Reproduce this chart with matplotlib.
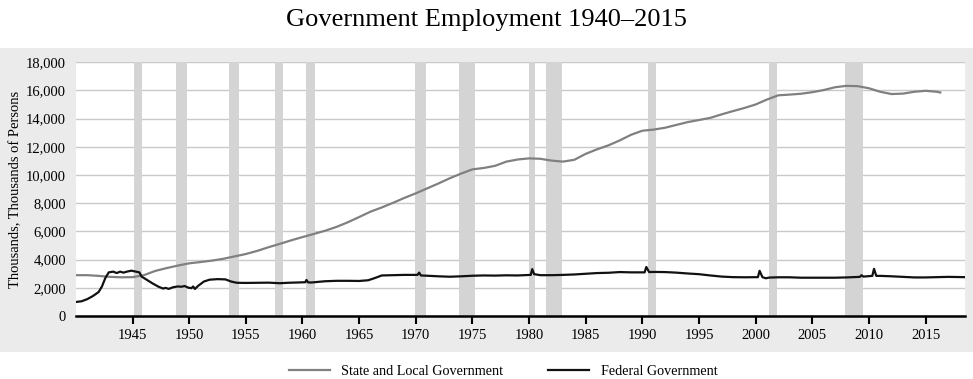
import matplotlib
matplotlib.use("Agg")
import matplotlib.pyplot as plt
from matplotlib.patches import Rectangle
from matplotlib.ticker import FuncFormatter, MultipleLocator

# ---- data ----
state_years = [1940, 1941, 1942, 1943, 1944, 1945, 1946, 1947, 1948, 1949,
               1950, 1951, 1952, 1953, 1954, 1955, 1956, 1957, 1958, 1959,
               1960, 1961, 1962, 1963, 1964, 1965, 1966, 1967, 1968, 1969,
               1970, 1971, 1972, 1973, 1974, 1975, 1976, 1977, 1978, 1979,
               1980, 1981, 1982, 1983, 1984, 1985, 1986, 1987, 1988, 1989,
               1990, 1991, 1992, 1993, 1994, 1995, 1996, 1997, 1998, 1999,
               2000, 2001, 2002, 2003, 2004, 2005, 2006, 2007, 2008, 2009,
               2010, 2011, 2012, 2013, 2014, 2015, 2016, 2016.3]
state_values = [2900, 2900, 2850, 2780, 2750, 2760, 2900, 3200, 3400, 3580,
                3740, 3830, 3930, 4060, 4230, 4400, 4620, 4880, 5120, 5370,
                5600, 5820, 6050, 6320, 6650, 7020, 7400, 7700, 8030, 8380,
                8700, 9050, 9400, 9770, 10100, 10400, 10500, 10650, 10950, 11100,
                11180, 11150, 11020, 10950, 11080, 11500, 11820, 12100, 12450, 12850,
                13140, 13220, 13350, 13550, 13750, 13900, 14050, 14300, 14530, 14750,
                15000, 15350, 15650, 15700, 15760, 15870, 16020, 16220, 16320, 16300,
                16150, 15900, 15740, 15770, 15900, 15970, 15900, 15850]

fed_years = [1940.0, 1940.5, 1941.0, 1941.5, 1942.0, 1942.3, 1942.6, 1942.9, 1943.3, 1943.6,
             1943.9, 1944.2, 1944.5, 1944.9, 1945.3, 1945.6, 1945.8, 1946.3, 1946.8, 1947.3,
             1947.7, 1947.9, 1948.2, 1948.6, 1949.0, 1949.3, 1949.6, 1949.9, 1950.2, 1950.35,
             1950.5, 1950.8, 1951.3, 1951.8, 1952.5, 1953.2, 1953.7, 1954.2, 1955, 1956,
             1957, 1958, 1958.7, 1959.5, 1960.25, 1960.35, 1960.5, 1960.8, 1961.3, 1962,
             1963, 1964, 1965, 1965.8, 1966.4, 1967, 1968, 1969, 1970.15, 1970.3,
             1970.45, 1971, 1972, 1973, 1974, 1975, 1976, 1977, 1978, 1979,
             1980.15, 1980.28, 1980.45, 1981, 1982, 1983, 1984, 1985, 1986, 1987,
             1988, 1989, 1990.2, 1990.35, 1990.6, 1991, 1992, 1993, 1994, 1995,
             1996, 1997, 1998, 1999, 2000.2, 2000.35, 2000.6, 2000.9, 2001.2, 2002,
             2003, 2004, 2005, 2006, 2007, 2008, 2009.2, 2009.35, 2009.5, 2010.3,
             2010.45, 2010.65, 2011, 2012, 2013, 2014, 2015, 2016, 2017, 2018.5]
fed_values = [1000, 1050, 1200, 1420, 1700, 2100, 2700, 3100, 3150, 3050,
              3150, 3080, 3150, 3220, 3150, 3100, 2800, 2550, 2300, 2080,
              1950, 2000, 1930, 2050, 2100, 2080, 2130, 2020, 1980, 2100,
              1920, 2150, 2450, 2580, 2620, 2600, 2450, 2360, 2350, 2360,
              2370, 2330, 2360, 2380, 2400, 2560, 2390, 2380, 2420, 2470,
              2500, 2500, 2490, 2540, 2700, 2880, 2900, 2920, 2920, 3080,
              2880, 2860, 2820, 2790, 2820, 2860, 2880, 2870, 2890, 2880,
              2920, 3330, 2970, 2900, 2900, 2920, 2950, 3000, 3050, 3070,
              3120, 3100, 3100, 3480, 3120, 3130, 3120, 3080, 3020, 2970,
              2880, 2800, 2760, 2750, 2760, 3210, 2760, 2680, 2730, 2750,
              2750, 2720, 2720, 2720, 2720, 2740, 2780, 2900, 2800, 2850,
              3350, 2850, 2850, 2820, 2780, 2740, 2740, 2760, 2780, 2760]

recession_starts = [1945.1, 1948.85, 1953.5, 1957.6, 1960.3, 1969.9, 1973.85, 1980.0, 1981.5, 1990.5, 2001.2, 2007.9]
recession_ends   = [1945.8, 1949.8, 1954.4, 1958.3, 1961.1, 1970.9, 1975.2, 1980.5, 1982.9, 1991.2, 2001.9, 2009.5]

x_ticks = [1945, 1950, 1955, 1960, 1965, 1970, 1975, 1980, 1985, 1990, 1995, 2000, 2005, 2010, 2015]

# ---- plot ----
plt.rcParams['font.family'] = ['Liberation Serif', 'DejaVu Serif']
fig = plt.figure(figsize=(9.73, 3.79), dpi=100, facecolor='white')

# gray panel behind the chart
fig.patches.append(Rectangle((0, 0.071), 1, 0.802, transform=fig.transFigure,
                             facecolor='#ebebec', edgecolor='none', zorder=-10))

ax = fig.add_axes([0.078, 0.166, 0.914, 0.670])
ax.set_facecolor('white')

for s, e in zip(recession_starts, recession_ends):
    ax.axvspan(s, e, color='#d4d4d5', zorder=1, lw=0)

ax.plot(state_years, state_values, color='#808080', lw=1.6, zorder=3,
        label='State and Local Government')
ax.plot(fed_years, fed_values, color='#111111', lw=1.6, zorder=4,
        label='Federal Government')

ax.set_xlim(1940, 2018.5)
ax.set_ylim(0, 18000)
ax.yaxis.set_major_locator(MultipleLocator(2000))
ax.yaxis.set_major_formatter(FuncFormatter(lambda v, p: f"{int(v):,}"))
ax.set_xticks(x_ticks)
ax.grid(axis='y', color='#c9c9c9', lw=1.0, zorder=0)
ax.set_axisbelow(True)

for side in ['top', 'right', 'left']:
    ax.spines[side].set_visible(False)
ax.spines['bottom'].set_linewidth(1.8)
ax.spines['bottom'].set_color('black')
ax.spines['bottom'].set_zorder(5)

ax.tick_params(axis='x', direction='out', length=6, width=1.5, colors='black',
               labelsize=10.5, pad=3)
ax.tick_params(axis='y', length=0, labelsize=10.5, pad=7)

ax.set_ylabel('Thousands, Thousands of Persons', fontsize=10.5, labelpad=3)

fig.text(0.5, 0.948, 'Government Employment 1940–2015', ha='center', va='center',
         fontsize=19)

fig.legend(loc='center', bbox_to_anchor=(0.517, 0.02), ncol=2, frameon=False,
           fontsize=10.2, handlelength=2.9, columnspacing=3.2, handletextpad=0.8,
           borderpad=0.1)

fig.savefig('out.png', dpi=100, facecolor='white')
